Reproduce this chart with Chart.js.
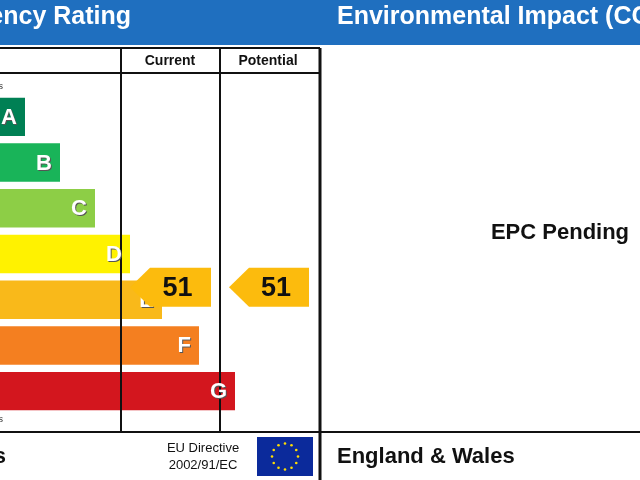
<!DOCTYPE html>
<html>
<head>
<meta charset="utf-8">
<script src="https://cdn.jsdelivr.net/npm/chart.js@4"></script>
<style>
  html, body { margin: 0; padding: 0; background: #fff; overflow: hidden; }
  #epc { display: block; }
</style>
</head>
<body>
<canvas id="epc" width="640" height="480"></canvas>
<script>
// rating bands, top (best) to bottom (worst)
const bands = ['A', 'B', 'C', 'D', 'E', 'F', 'G'];
// where each band bar ends (bars start off the left edge, chart is cropped)
const barEnds = [-95, -60, -25, 10, 42, 79, 115];
const bandColors = ['#008054', '#19b459', '#8dce46', '#fff200', '#f9b91a', '#f47f20', '#d3161e'];
const currentRating = 51;
const potentialRating = 51;
// EPC band E covers 39-54
const bandE = [39, 54];

const FONT = '"Liberation Sans", Arial, sans-serif';

// frame, headers, arrows and footer
const epcFrame = {
    id: 'epcFrame',
    beforeDraw(chart) {
        const c = chart.ctx;
        c.save();
        c.fillStyle = '#fff';
        c.fillRect(0, 0, 640, 480);
        // blue title band
        c.fillStyle = '#1f6fbf';
        c.fillRect(0, 0, 640, 45);
        c.fillStyle = '#fff';
        c.font = 'bold 25px ' + FONT;
        c.textBaseline = 'middle';
        c.textAlign = 'right';
        c.fillText('Energy Efficiency Rating', 131, 17);
        c.textAlign = 'left';
        c.fillText('Environmental Impact (CO2) Rating', 337, 17);
        c.restore();
    },
    afterDraw(chart) {
        const c = chart.ctx;
        const y = chart.scales.y;
        c.save();
        c.strokeStyle = '#111';
        c.lineWidth = 2;
        c.beginPath();
        c.moveTo(0, 48); c.lineTo(320, 48);
        c.moveTo(0, 73); c.lineTo(320, 73);
        c.moveTo(121, 48); c.lineTo(121, 432);
        c.moveTo(220, 48); c.lineTo(220, 432);
        c.moveTo(0, 432); c.lineTo(640, 432);
        c.stroke();
        c.lineWidth = 3;
        c.beginPath();
        c.moveTo(320, 48); c.lineTo(320, 480);
        c.stroke();

        c.fillStyle = '#111';
        c.font = 'bold 14px ' + FONT;
        c.textAlign = 'center';
        c.textBaseline = 'middle';
        c.fillText('Current', 170, 61);
        c.fillText('Potential', 268, 61);

        c.font = '9px ' + FONT;
        c.textAlign = 'right';
        c.fillStyle = '#333';
        c.fillText('Very energy efficient - lower running costs', 3, 87);
        c.fillText('Not energy efficient - higher running costs', 3, 420);

        // band letters at the end of each bar
        c.font = 'bold 22px ' + FONT;
        c.textAlign = 'right';
        bands.forEach((b, i) => {
            const py = y.getPixelForValue(i);
            const px = chart.scales.x.getPixelForValue(barEnds[i]) - 8;
            c.fillStyle = '#555';
            c.fillText(b, px + 1, py + 2);
            c.fillStyle = '#fff';
            c.fillText(b, px, py + 1);
        });

        // rating arrows, placed within band E by value
        function ratingY(v) {
            const frac = (v - bandE[0]) / (bandE[1] - bandE[0]);
            const step = y.getPixelForValue(4) - y.getPixelForValue(3);
            return y.getPixelForValue(4) + (0.5 - frac) * step * 0.9;
        }
        function arrow(x0, x1, v) {
            const cy = ratingY(v), h = 19.5;
            c.fillStyle = '#fcbb0d';
            c.beginPath();
            c.moveTo(x0, cy);
            c.lineTo(x0 + 20, cy - h);
            c.lineTo(x1, cy - h);
            c.lineTo(x1, cy + h);
            c.lineTo(x0 + 20, cy + h);
            c.closePath();
            c.fill();
            c.fillStyle = '#111';
            c.font = 'bold 27px ' + FONT;
            c.textAlign = 'center';
            c.fillText(String(v), (x0 + x1) / 2 + 7, cy + 1);
        }
        arrow(130, 211, currentRating);
        arrow(229, 309, potentialRating);

        c.fillStyle = '#111';
        c.font = 'bold 22px ' + FONT;
        c.textAlign = 'center';
        c.fillText('EPC Pending', 560, 233);
        c.textAlign = 'right';
        c.fillText('England & Wales', 6, 457);
        c.textAlign = 'left';
        c.fillText('England & Wales', 337, 457);

        c.font = '13px ' + FONT;
        c.textAlign = 'center';
        c.fillText('EU Directive', 203, 448);
        c.fillText('2002/91/EC', 203, 465);

        // EU flag
        c.fillStyle = '#0b2a9b';
        c.fillRect(257, 437, 56, 39);
        c.fillStyle = '#ffdd00';
        for (let k = 0; k < 12; k++) {
            const a = k / 12 * Math.PI * 2;
            c.beginPath();
            c.arc(285 + Math.cos(a) * 13, 456.5 + Math.sin(a) * 13, 1.3, 0, Math.PI * 2);
            c.fill();
        }
        c.restore();
    }
};

new Chart(document.getElementById('epc'), {
    type: 'bar',
    data: {
        labels: bands,
        datasets: [{
            data: barEnds.map(e => [-200, e]),
            backgroundColor: bandColors,
            borderWidth: 0,
            barPercentage: 0.84,
            categoryPercentage: 1
        }]
    },
    options: {
        indexAxis: 'y',
        responsive: false,
        animation: false,
        devicePixelRatio: 1,
        layout: { padding: { left: 0, right: 0, top: 94, bottom: 66 } },
        scales: {
            x: { display: false, min: -120, max: 520 },
            y: { display: false }
        },
        plugins: { legend: { display: false }, tooltip: { enabled: false } }
    },
    plugins: [epcFrame]
});
</script>
</body>
</html>
